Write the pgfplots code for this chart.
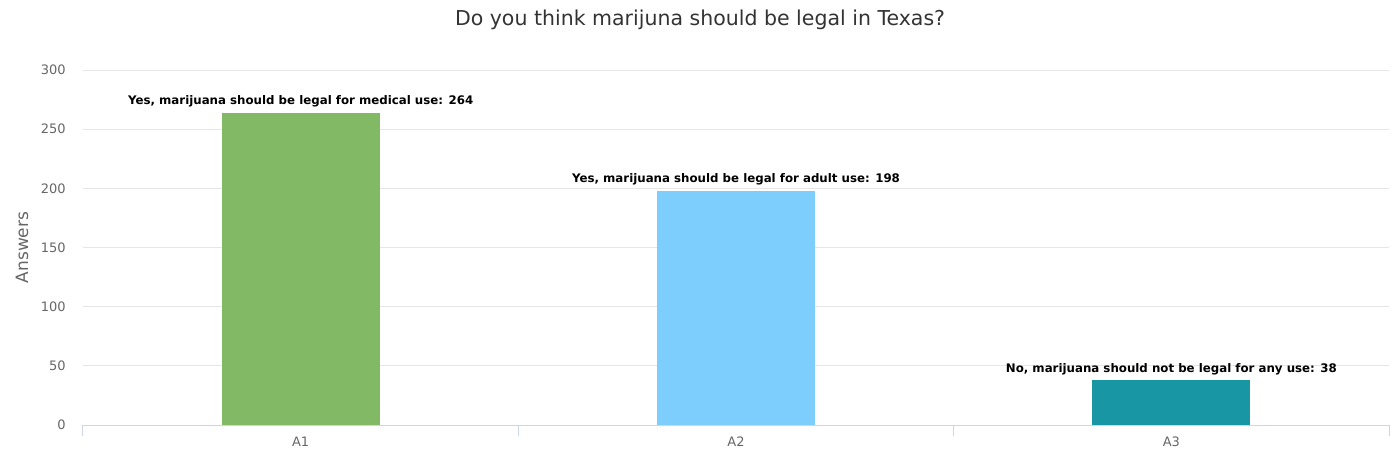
\documentclass[border=0pt]{standalone}
\usepackage{pgfplots}
\pgfplotsset{compat=1.18}
\usepackage{fontspec}
\setmainfont{DejaVu Sans}
\definecolor{barA}{HTML}{82B965}
\definecolor{barB}{HTML}{7ECEFD}
\definecolor{barC}{HTML}{1896A3}
\definecolor{gridc}{HTML}{E6E6E6}
\definecolor{axisc}{HTML}{CCD6EB}
\definecolor{titlec}{HTML}{333333}
\definecolor{labc}{HTML}{666666}
\begin{document}
\begin{tikzpicture}
\path[use as bounding box] (-41.5pt,-21pt) rectangle (658.5pt,212.5pt);
\begin{axis}[
  at={(0,0)}, anchor=south west,
  scale only axis, width=653pt, height=177.5pt,
  ybar, bar width=79pt, bar shift=0pt,
  xmin=-0.5, xmax=2.5, ymin=0, ymax=300,
  xtick={0,1,2}, xticklabels={A1,A2,A3},
  minor xtick={-0.5,0.5,1.5,2.5},
  ytick={0,50,100,150,200,250,300},
  /pgf/number format/assume math mode=true,
  axis lines*=left,
  y axis line style={draw=none},
  x axis line style={draw=axisc, line width=0.5pt},
  major x tick style={draw=none},
  minor x tick style={draw=axisc, line width=0.5pt},
  ytick style={draw=none},
  tick align=outside, major tick length=0pt, minor tick length=5.5pt,
  ymajorgrids, grid style={draw=gridc, line width=0.5pt},
  yticklabel style={font=\fontsize{6.5}{7}\selectfont, text=labc, anchor=east, inner sep=0pt, xshift=-8.5pt},
  xticklabel style={font=\fontsize{6.5}{7}\selectfont, text=labc, anchor=base, inner sep=0pt, yshift=-10.5pt},
  ylabel={Answers},
  every axis y label/.style={at={(-30.5pt,88.75pt)}, rotate=90, anchor=center, font=\fontsize{8.5}{10}\selectfont, text=labc},
  every node near coord/.style={font=\bfseries\fontsize{5.9}{7}\selectfont, text=black, anchor=base, inner sep=0pt, yshift=4pt},
  clip=false,
]
\addplot[fill=barA, draw=none, nodes near coords={Yes, marijuana should be legal for medical use: 264}] coordinates {(0,264)};
\addplot[fill=barB, draw=none, nodes near coords={Yes, marijuana should be legal for adult use: 198}] coordinates {(1,198)};
\addplot[fill=barC, draw=none, nodes near coords={No, marijuana should not be legal for any use: 38}] coordinates {(2,38)};
\end{axis}
\node[font=\fontsize{10.25}{12}\selectfont, text=titlec] at (308.5pt,202.5pt) {Do you think marijuna should be legal in Texas?};
\end{tikzpicture}
\end{document}
